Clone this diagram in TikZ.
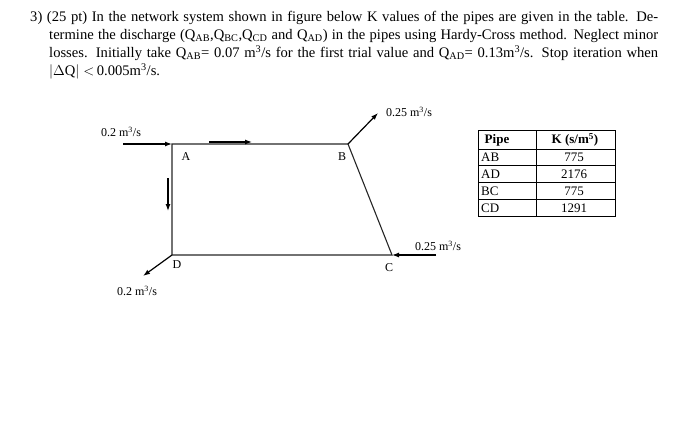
\documentclass[tikz,border=0pt]{standalone}
\usepackage{fontspec}
\usetikzlibrary{arrows.meta}
\setmainfont{Liberation Serif}
\begin{document}
\begin{tikzpicture}[x=1pt,y=-1pt,
  pipe/.style={line width=1.1pt,black!85},
  flow/.style={line width=1.2pt,-{Latex[length=7pt,width=5pt]}},
  lbl/.style={font=\fontsize{12}{13}\selectfont,inner sep=1pt},
  cell/.style={font=\fontsize{13}{14}\selectfont,inner sep=0pt}]
\useasboundingbox (0,0) rectangle (700,434);
\node[anchor=north west,inner sep=0pt,text width=628pt,align=justify] (txt) at (30,11)
 {\fontsize{14.6}{18}\selectfont\hangindent=19pt\hangafter=1
 3) (25 pt) In the network system shown in figure below K values of the pipes are given in the table. Determine the discharge (Q\textsubscript{AB},Q\textsubscript{BC},Q\textsubscript{CD} and Q\textsubscript{AD}) in the pipes using Hardy-Cross method. Neglect minor losses. Initially take Q\textsubscript{AB}= 0.07 m\textsuperscript{3}/s for the first trial value and Q\textsubscript{AD}= 0.13m\textsuperscript{3}/s. Stop iteration when $|\Delta$Q$|<$\,0.005m\textsuperscript{3}/s.\par};
\coordinate (A) at (172,144);
\coordinate (B) at (348,144);
\coordinate (C) at (392,255);
\coordinate (D) at (172,255);
\coordinate (inA) at (123,144);
\coordinate (outB) at (378,113);
\coordinate (inC) at (436,255);
\coordinate (outD) at (143,276);
\draw[pipe] (A) -- (B) -- (C) -- (D) -- cycle;
\draw[flow] (inA) -- (A);
\draw[flow] (B) -- (outB);
\draw[flow] (inC) -- (C);
\draw[flow] (D) -- (outD);
\coordinate (ab1) at (209,142); \coordinate (ab2) at (252,142);
\draw[flow] (ab1) -- (ab2);
\coordinate (ad1) at (168,178); \coordinate (ad2) at (168,211);
\draw[flow] (ad1) -- (ad2);
\node[lbl] (lA) at (186,157) {A};
\node[lbl] (lB) at (342,157) {B};
\node[lbl] (lC) at (389,268) {C};
\node[lbl] (lD) at (177,265) {D};
\node[lbl] (qA) at (121,132) {0.2 m\textsuperscript{3}/s};
\node[lbl] (qB) at (409,112) {0.25 m\textsuperscript{3}/s};
\node[lbl] (qC) at (438,246) {0.25 m\textsuperscript{3}/s};
\node[lbl] (qD) at (137,291) {0.2 m\textsuperscript{3}/s};
% table
\draw[line width=0.6pt] (478,130) rectangle (615,216);
\foreach \y in {149,165,182,199} \draw[line width=0.6pt] (478,\y) -- (615,\y);
\draw[line width=0.6pt] (536,130) -- (536,216);
\node[cell,font=\fontsize{13}{14}\selectfont\bfseries] (h1) at (497,140) {Pipe};
\node[cell,font=\fontsize{13}{14}\selectfont\bfseries] (h2) at (575,140) {K (s/m\textsuperscript{5})};
\node[cell,anchor=west] (r1) at (481,157) {AB}; \node[cell] (v1) at (574,157) {775};
\node[cell,anchor=west] (r2) at (481,174) {AD}; \node[cell] (v2) at (574,174) {2176};
\node[cell,anchor=west] (r3) at (481,191) {BC}; \node[cell] (v3) at (574,191) {775};
\node[cell,anchor=west] (r4) at (481,208) {CD}; \node[cell] (v4) at (574,208) {1291};
\end{tikzpicture}
\end{document}
